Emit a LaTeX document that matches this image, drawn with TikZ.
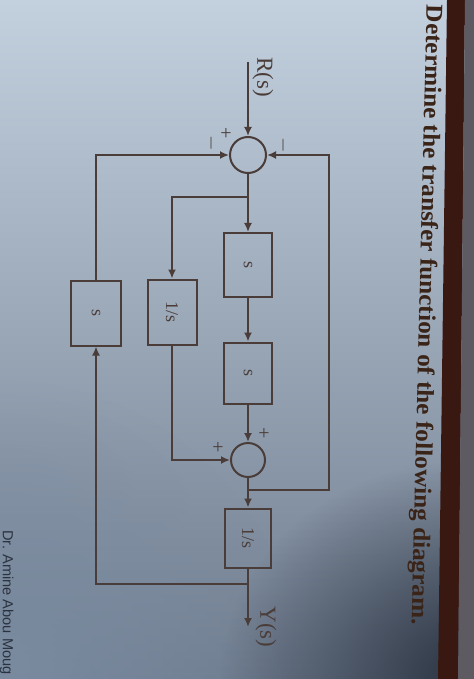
\documentclass[tikz,border=0pt]{standalone}
\usepackage{fontspec}
\setmainfont{Liberation Serif}
\newfontfamily\sansfont{Liberation Sans}
\usetikzlibrary{arrows.meta,fadings}
\definecolor{wire}{HTML}{4A3C38}
\definecolor{titlec}{HTML}{3A2418}
\definecolor{bgtop}{HTML}{C3D0DE}
\definecolor{bgmid}{HTML}{E6E5EE}
\definecolor{bgbot}{HTML}{6F7C8E}
\definecolor{darkc}{HTML}{2A3240}
\definecolor{leftc}{HTML}{7A8BA0}
\definecolor{stripec}{HTML}{3A1812}
\definecolor{edgec}{HTML}{5E5A62}
\tikzfading[name=fadebr, inner color=transparent!0, outer color=transparent!100]
\begin{document}
\begin{tikzpicture}[x=0.5pt,y=-0.5pt,
  wirestyle/.style={draw=wire, line width=1pt},
  arr/.style={wirestyle, -{Latex[length=4.5pt,width=4pt]}},
  blk/.style={draw=wire, line width=1pt, rectangle, inner sep=0pt,
    minimum width=24pt, minimum height=32pt, text=wire,
    font=\fontsize{9}{10}\selectfont},
  sumn/.style={draw=wire, line width=1pt, circle, inner sep=0pt, minimum size=18pt},
  lbl/.style={rotate=-90, text=wire, font=\fontsize{11.5}{12}\selectfont, inner sep=0pt},
  sgn/.style={rotate=-90, text=wire, font=\fontsize{10}{10}\selectfont, inner sep=0pt}]
% background
\path[use as bounding box] (0,0) rectangle (474,679);
\clip (0,0) rectangle (474,679);
\shade[top color=bgtop, middle color=bgmid, bottom color=bgbot] (0,0) rectangle (474,679);
\fill[color=leftc, path fading=fadebr] (-300,380) rectangle (300,980);
\fill[color=darkc, path fading=fadebr] (220,460) rectangle (728,898);
\fill[color=stripec] (447,0) -- (465,0) -- (458,679) -- (438,679) -- cycle;
\fill[color=edgec] (465,0) -- (474,0) -- (474,679) -- (458,679) -- cycle;
\node[rotate=-91.4, text=titlec, inner sep=0pt] (title) at (425,315)
  {\resizebox{310pt}{8.5pt}{\bfseries Determine the transfer function of the following diagram.}};
\node[rotate=-90, anchor=base west, text=darkc, inner sep=0pt,
  font=\sansfont\fontsize{7.3}{8}\selectfont] (author) at (3,530) {Dr. Amine Abou Moug};
% nodes
\node[sumn] (sum1) at (248,155) {};
\node[blk] (bs1) at (248,265) {\rotatebox{-90}{s}};
\node[blk, minimum height=30.5pt] (bs2) at (248,373) {\rotatebox{-90}{s}};
\node[sumn, minimum size=17pt] (sum2) at (248,460) {};
\node[blk, minimum width=23pt, minimum height=29.5pt] (bint2) at (248,538) {\rotatebox{-90}{1/s}};
\node[blk, minimum width=25pt, minimum height=32.5pt] (bfb) at (96,313) {\rotatebox{-90}{s}};
\node[blk, minimum width=24.5pt, minimum height=32.5pt] (bint1) at (172,312) {\rotatebox{-90}{1/s}};
\coordinate (rin) at (248,62);
\coordinate (yout) at (248,627);
\coordinate (br1) at (248,197);
\coordinate (br2) at (248,490);
\coordinate (cr) at (329,490);
\coordinate (br3) at (248,584);
% labels
\node[lbl] (rlab) at (263,77) {R(s)};
\node[lbl] (ylab) at (266,627) {Y(s)};
\node[sgn] (s1a) at (225,133) {+};
\node[sgn] (s1b) at (211,143) {$-$};
\node[sgn] (s1c) at (283,145) {$-$};
\node[sgn] (s2a) at (263,433) {+};
\node[sgn] (s2b) at (217,447) {+};
% connectors
\draw[arr] (rin) -- (sum1);
\draw[arr] (sum1) -- (bs1);
\draw[arr] (br1) -| (bint1.north);
\draw[arr] (bs1) -- (bs2);
\draw[arr] (bs2) -- (sum2);
\draw[arr] (bint1.south) |- (sum2.west);
\draw[arr] (sum2) -- (bint2);
\draw[arr] (br2) -- (cr) |- (sum1.east);
\draw[arr] (bint2) -- (yout);
\draw[arr] (br3) -| (bfb.south);
\draw[arr] (bfb.north) |- (sum1.west);
\end{tikzpicture}
\end{document}
